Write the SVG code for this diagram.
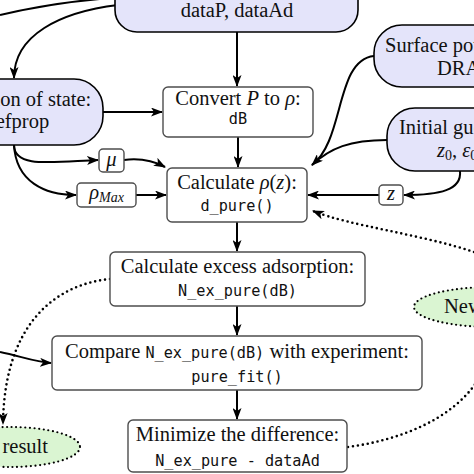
<svg xmlns="http://www.w3.org/2000/svg" width="474" height="474" viewBox="0 0 474 474">
<defs>
<style>
.box{fill:#fff;stroke:#4d4d4d;stroke-width:1.4}
.term{fill:#e4e4fa;stroke:#000;stroke-width:1.6}
.ell{fill:#daf5d2;stroke:#000;stroke-width:2.2;stroke-dasharray:0 4.6;stroke-linecap:round}
.t{font-family:"Liberation Serif","Times New Roman",serif;font-size:20.5px;fill:#111}
.m{font-family:"DejaVu Sans Mono","Liberation Mono",monospace;font-size:15.2px;fill:#111}
.i{font-style:italic}
.c{fill:none;stroke:#000;stroke-width:2}
.d{fill:none;stroke:#000;stroke-width:2.6;stroke-dasharray:0 5;stroke-linecap:round}
</style>
<marker id="ah" viewBox="0 0 12 9" refX="11" refY="4.5" markerWidth="12" markerHeight="9" orient="auto" markerUnits="userSpaceOnUse">
<path d="M0,0 L12,4.5 L0,9 L3,4.5 z" fill="#000"/>
</marker>
</defs>
<rect width="474" height="474" fill="#fff"/>

<g id="connectors">
<path class="c" d="M0,15 C30,8 70,1 112,-2"/>
<path class="c" d="M118,5 C60,12 14,35 14,78" marker-end="url(#ah)"/>
<path class="c" d="M237,32 L237,86" marker-end="url(#ah)"/>
<path class="c" d="M103,112 L162,112" marker-end="url(#ah)"/>
<path class="c" d="M238,137 L238,167" marker-end="url(#ah)"/>
<path class="c" d="M14,145 C14,168 50,162 98,160" marker-end="url(#ah)"/>
<path class="c" d="M14,145 C16,182 45,195 76,195" marker-end="url(#ah)"/>
<path class="c" d="M124,160 C140,158 152,160 165,167" marker-end="url(#ah)"/>
<path class="c" d="M136,195 L166,195" marker-end="url(#ah)"/>
<path class="c" d="M374,56 C335,60 345,140 312,165"/>
<path class="c" d="M387,140 C350,140 330,148 312,165" marker-end="url(#ah)"/>
<path class="c" d="M460,171 C462,190 440,195 404,195" marker-end="url(#ah)"/>
<path class="c" d="M379,195 L308,195" marker-end="url(#ah)"/>
<path class="c" d="M237,222 L237,251" marker-end="url(#ah)"/>
<path class="c" d="M237,306 L237,335" marker-end="url(#ah)"/>
<path class="c" d="M237,390 L237,419" marker-end="url(#ah)"/>
<path class="c" d="M0,352 C20,356 35,362 51,363" marker-end="url(#ah)"/>
<path class="d" d="M474,252 C420,234 350,226 313,211" marker-end="url(#ah)"/>
<path class="d" d="M110,279 C50,285 4,330 3,424" marker-end="url(#ah)"/>
<path class="d" d="M348,447 C400,440 450,420 476,383"/>
</g>

<g id="node-data">
<rect class="term" x="115" y="-30" width="243" height="62" rx="22"/>
<text class="t" x="237" y="17" text-anchor="middle">dataP, dataAd</text>
</g>

<g id="node-eos">
<rect class="term" x="-80" y="79" width="183" height="66" rx="29"/>
<text class="t" x="19" y="106" text-anchor="middle">Equation of state:</text>
<text class="t" x="19" y="128" text-anchor="middle">refprop</text>
</g>

<g id="node-surface">
<rect class="term" x="374" y="25" width="190" height="62" rx="28"/>
<text class="t" x="385" y="52">Surface potential:</text>
<text class="t" x="437" y="75">DRA</text>
</g>

<g id="node-initial">
<rect class="term" x="387" y="108" width="180" height="63" rx="28"/>
<text class="t" x="399" y="134">Initial guess:</text>
<text class="t" x="437" y="157"><tspan class="i">z</tspan><tspan font-size="14" dy="3">0</tspan><tspan dy="-3">, </tspan><tspan class="i">ε</tspan><tspan font-size="14" dy="3">0</tspan></text>
</g>

<g id="node-convert">
<rect class="box" x="163" y="87" width="150" height="50" rx="5"/>
<text class="t" x="238" y="105" text-anchor="middle">Convert <tspan class="i">P</tspan> to <tspan class="i">ρ</tspan>:</text>
<text class="m" x="238" y="124" text-anchor="middle">dB</text>
</g>

<g id="node-mu">
<rect class="box" x="99" y="149" width="25" height="23" rx="4"/>
<text class="t i" x="111.5" y="166" text-anchor="middle">μ</text>
</g>

<g id="node-rhomax">
<rect class="box" x="77" y="183" width="59" height="24" rx="4"/>
<text class="t" x="106.5" y="199" text-anchor="middle"><tspan class="i">ρ</tspan><tspan class="i" font-size="14" dy="3">Max</tspan></text>
</g>

<g id="node-z">
<rect class="box" x="379" y="185" width="24" height="20" rx="4"/>
<text class="t i" x="391" y="200" text-anchor="middle">z</text>
</g>

<g id="node-calcrho">
<rect class="box" x="167" y="168" width="140" height="54" rx="5"/>
<text class="t" x="237" y="189" text-anchor="middle">Calculate <tspan class="i">ρ</tspan>(<tspan class="i">z</tspan>):</text>
<text class="m" x="237" y="211" text-anchor="middle">d_pure()</text>
</g>

<g id="node-excess">
<rect class="box" x="110" y="252" width="255" height="54" rx="5"/>
<text class="t" x="237.5" y="273" text-anchor="middle">Calculate excess adsorption:</text>
<text class="m" x="237.5" y="296" text-anchor="middle">N_ex_pure(dB)</text>
</g>

<g id="node-compare">
<rect class="box" x="52" y="336" width="370" height="54" rx="5"/>
<text class="t" x="237" y="358" text-anchor="middle">Compare <tspan class="m">N_ex_pure(dB)</tspan> with experiment:</text>
<text class="m" x="237" y="382" text-anchor="middle">pure_fit()</text>
</g>

<g id="node-minimize">
<rect class="box" x="128" y="420" width="219" height="52" rx="5"/>
<text class="t" x="237.5" y="441" text-anchor="middle">Minimize the difference:</text>
<text class="m" x="237.5" y="466" text-anchor="middle">N_ex_pure - dataAd</text>
</g>

<g id="node-new">
<ellipse class="ell" cx="492" cy="307" rx="78" ry="20"/>
<text class="t" x="444" y="313">New</text>
</g>

<g id="node-result">
<ellipse class="ell" cx="10" cy="447" rx="70" ry="20"/>
<text class="t" x="48" y="453" text-anchor="end">result</text>
</g>
</svg>
